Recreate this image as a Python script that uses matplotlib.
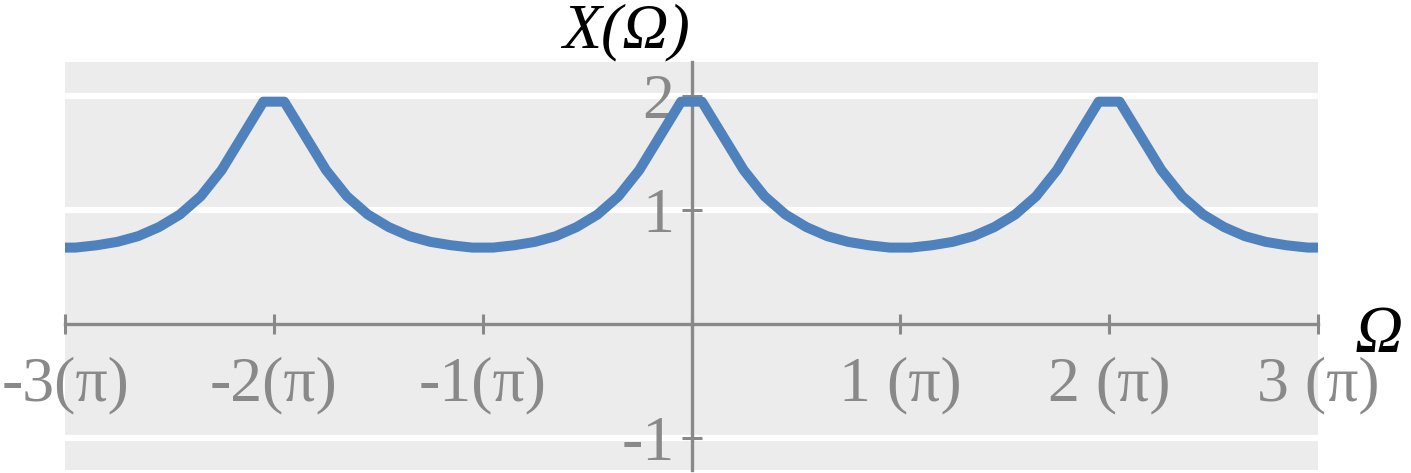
#!/usr/bin/env python3
"""Periodic spectrum X(Omega) drawn as an Excel-style line chart."""

import matplotlib

matplotlib.use("Agg")
import matplotlib.pyplot as plt

# frequency in units of pi
omega = [
    -3.00, -2.95, -2.85, -2.75, -2.65, -2.55, -2.45, -2.35, -2.25, -2.15, -2.05,
    -1.95, -1.85, -1.75, -1.65, -1.55, -1.45, -1.35, -1.25, -1.15, -1.05,
    -0.95, -0.85, -0.75, -0.65, -0.55, -0.45, -0.35, -0.25, -0.15, -0.05,
    0.05, 0.15, 0.25, 0.35, 0.45, 0.55, 0.65, 0.75, 0.85, 0.95,
    1.05, 1.15, 1.25, 1.35, 1.45, 1.55, 1.65, 1.75, 1.85, 1.95,
    2.05, 2.15, 2.25, 2.35, 2.45, 2.55, 2.65, 2.75, 2.85, 2.95, 3.00,
]
magnitude = [
    0.67, 0.67, 0.69, 0.72, 0.77, 0.85, 0.96, 1.12, 1.35, 1.65, 1.95,
    1.95, 1.65, 1.35, 1.12, 0.96, 0.85, 0.77, 0.72, 0.69, 0.67,
    0.67, 0.69, 0.72, 0.77, 0.85, 0.96, 1.12, 1.35, 1.65, 1.95,
    1.95, 1.65, 1.35, 1.12, 0.96, 0.85, 0.77, 0.72, 0.69, 0.67,
    0.67, 0.69, 0.72, 0.77, 0.85, 0.96, 1.12, 1.35, 1.65, 1.95,
    1.95, 1.65, 1.35, 1.12, 0.96, 0.85, 0.77, 0.72, 0.69, 0.67, 0.67,
]

x_ticks = [-3, -2, -1, 0, 1, 2, 3]
x_labels = ["-3(π)", "-2(π)", "-1(π)", "", "1 (π)", "2 (π)", "3 (π)"]
y_ticks = [-1, 1, 2]
y_labels = ["-1", "1", "2"]

GRAY = "#898989"
BLUE = "#4f81bd"
BG = "#ececec"

plt.rcParams["font.family"] = ["Liberation Serif", "DejaVu Serif"]

fig = plt.figure(figsize=(14.11, 4.73), dpi=100)
ax = fig.add_axes([65 / 1411, 3 / 473, 1253 / 1411, 408 / 473])
ax.set_facecolor(BG)

ax.plot(omega, magnitude, color=BLUE, lw=7.2, solid_capstyle="butt",
        solid_joinstyle="round", zorder=2.6)

ax.set_xlim(-3, 3)
ax.set_ylim(-1.281, 2.298)

for name in ("top", "right"):
    ax.spines[name].set_visible(False)
for name in ("bottom", "left"):
    ax.spines[name].set_position(("data", 0))
    ax.spines[name].set_color(GRAY)
    ax.spines[name].set_linewidth(2.4)

ax.set_xticks(x_ticks)
ax.set_xticklabels(x_labels)
ax.set_yticks(y_ticks)
ax.set_yticklabels(y_labels)
ax.tick_params(axis="both", direction="inout", length=14.4, width=2.2,
               color=GRAY, labelcolor=GRAY, labelsize=46)
ax.tick_params(axis="x", pad=16)
ax.tick_params(axis="y", pad=5)

ax.grid(axis="y", color="white", lw=4.5)
ax.grid(axis="x", visible=False)

fig.text(690 / 1411, 1 - 47 / 473, "X(Ω)", ha="right", va="baseline",
         style="italic", fontsize=46, color="black")
fig.text(1355 / 1411, 1 - 352 / 473, "Ω", ha="left", va="baseline",
         style="italic", fontsize=48, color="black")

fig.savefig("out.png", dpi=100)
